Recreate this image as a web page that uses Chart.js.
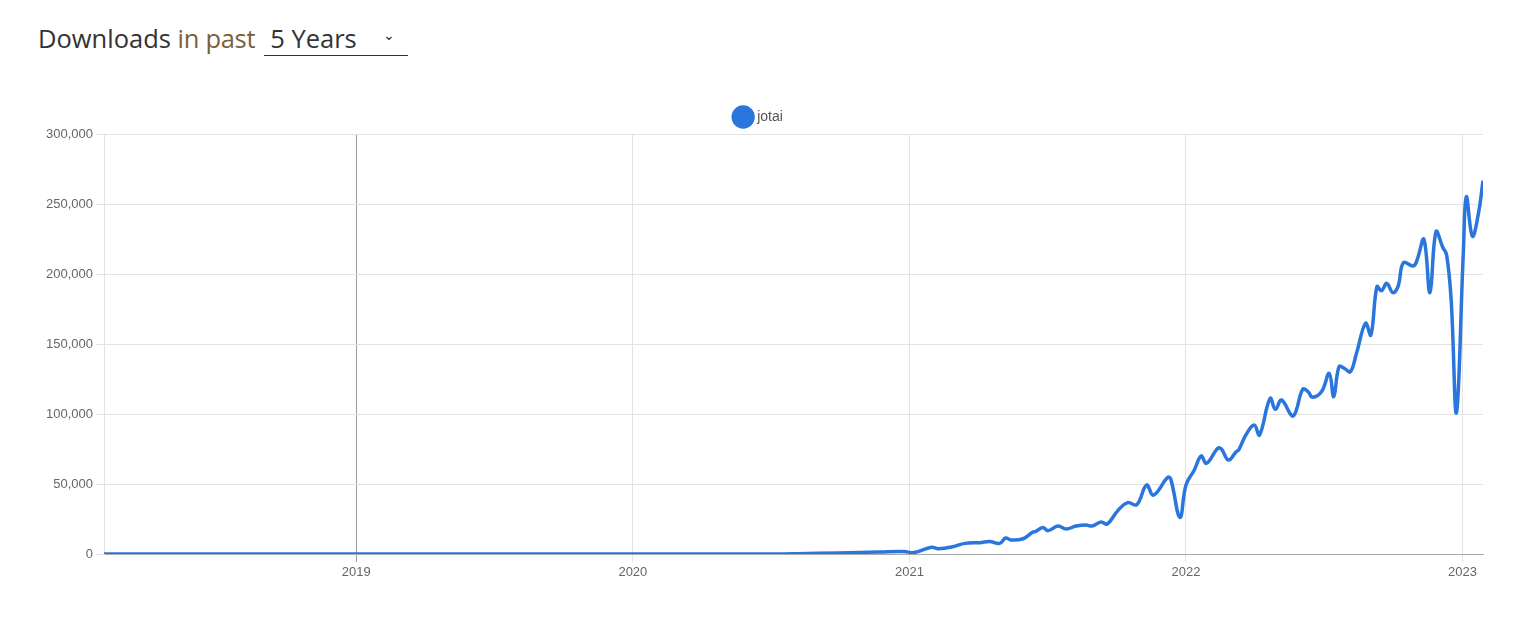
<!DOCTYPE html>
<html>
<head>
<meta charset="utf-8">
<script src="https://cdn.jsdelivr.net/npm/chart.js@4.4.0/dist/chart.umd.min.js"></script>
<style>
    body { margin: 0; background: #fff; overflow: hidden; }
    #head {
        position: absolute; left: 38px; top: 21px;
        font-family: "Open Sans", "Noto Sans", sans-serif; font-size: 25.5px; color: #333;
        white-space: nowrap;
    }
    #head .past { color: #7d5e3c; letter-spacing: -0.3px; }
    #head .sel {
        display: inline-block; position: relative; margin-left: 9px;
        width: 144px; padding-left: 6px; box-sizing: border-box;
        border-bottom: 1px solid #333;
    }
    #head .sel .chev {
        position: absolute; right: 13px; top: 4px; font-size: 14px;
    }
    #wrap { position: absolute; left: 0; top: 0; width: 1536px; height: 619px; }
</style>
</head>
<body>
<div id="head">Downloads <span class="past">in past</span><span class="sel">5 Years<span class="chev">&#8964;</span></span></div>
<div id="wrap"><canvas id="chart-downloads" width="1536" height="619"></canvas></div>
<script>
// semanas (aprox.) e downloads
const weeks = [
    '2018-02-02', '2020-07-20', '2020-08-06', '2020-09-29', '2020-11-23', '2020-12-25',
    '2021-01-07', '2021-01-30', '2021-02-08', '2021-02-27', '2021-03-15', '2021-04-04',
    '2021-04-17', '2021-04-30', '2021-05-08', '2021-05-15', '2021-05-31', '2021-06-13',
    '2021-06-17', '2021-06-26', '2021-07-03', '2021-07-16', '2021-07-27', '2021-08-09',
    '2021-08-22', '2021-08-30', '2021-09-11', '2021-09-19', '2021-10-03', '2021-10-16',
    '2021-10-28', '2021-11-10', '2021-11-19', '2021-12-08', '2021-12-12', '2021-12-24',
    '2022-01-01', '2022-01-12', '2022-01-21', '2022-01-28', '2022-02-12', '2022-02-17',
    '2022-02-26', '2022-03-08', '2022-03-12', '2022-03-21', '2022-04-01', '2022-04-08',
    '2022-04-22', '2022-04-29', '2022-05-07', '2022-05-21', '2022-05-26', '2022-06-04',
    '2022-06-11', '2022-06-17', '2022-06-29', '2022-07-09', '2022-07-15', '2022-07-22',
    '2022-07-29', '2022-08-06', '2022-08-14', '2022-08-26', '2022-09-02', '2022-09-10',
    '2022-09-16', '2022-09-23', '2022-10-01', '2022-10-08', '2022-10-15', '2022-10-28',
    '2022-11-02', '2022-11-11', '2022-11-19', '2022-11-27', '2022-12-06', '2022-12-11',
    '2022-12-17', '2022-12-24', '2023-01-02', '2023-01-06', '2023-01-14', '2023-01-22',
    '2023-01-28'
];
const downloads = [
    0, 0, 200, 800, 1500, 1800,
    1000, 4800, 3800, 5200, 7600, 8100,
    9000, 7600, 11400, 10000, 10900, 15700,
    16200, 19000, 16700, 20000, 17900, 20000,
    20700, 20000, 22900, 21400, 31000, 36700,
    35200, 49300, 42000, 54800, 53300, 26200,
    49300, 60000, 70000, 64800, 75500, 74800,
    67100, 72900, 74800, 85000, 92100, 85000,
    111200, 103300, 110000, 98600, 101700, 117600,
    116000, 112000, 116000, 129000, 112400, 133800,
    132600, 130200, 143300, 164800, 156400, 191000,
    188000, 193300, 186700, 191400, 208000, 205700,
    210000, 224800, 186700, 230200, 219000, 213600,
    181400, 101000, 214800, 255200, 227000, 243300,
    266600
];
const yearTicks = [2019, 2020, 2021, 2022, 2023];
const yTicks = [0, 50000, 100000, 150000, 200000, 250000, 300000];

function paraAno(s) {
    const d = new Date(s + 'T00:00:00Z');
    const y = d.getUTCFullYear();
    const ini = Date.UTC(y, 0, 1), fim = Date.UTC(y + 1, 0, 1);
    return y + (d.getTime() - ini) / (fim - ini);
}

const pontos = [];
for (let i = 0; i < weeks.length; ++i) {
    pontos.push({x: paraAno(weeks[i]), y: downloads[i]});
}

const fonte = {family: 'Arial, "Liberation Sans", sans-serif', size: 13};

var chartDownloads = new Chart(document.getElementById('chart-downloads').getContext('2d'), {
    type: 'line',
    data: {
        datasets: [{
            label: 'jotai',
            data: pontos,
            borderColor: '#2a76dd',
            backgroundColor: '#2a76dd',
            borderWidth: 3.5,
            pointRadius: 0,
            tension: 0.4,
            fill: false
        }]
    },
    options: {
        responsive: false,
        animation: false,
        layout: {padding: {top: 100, right: 53, left: 36, bottom: 0}},
        scales: {
            x: {
                type: 'linear',
                min: pontos[0].x,
                max: pontos[pontos.length - 1].x,
                afterBuildTicks: function(s) { s.ticks = yearTicks.map(v => ({value: v})); },
                afterFit: function(s) { s.height = 65; },
                ticks: {
                    color: '#666', font: fonte, padding: 3,
                    callback: v => String(v), maxRotation: 0
                },
                grid: {
                    color: c => (c.tick && c.tick.value === 2019) ? '#9a9a9a' : '#e3e3e3',
                    tickLength: 8
                },
                border: {color: '#aaaaaa', width: 1}
            },
            y: {
                min: 0,
                max: 300000,
                afterBuildTicks: function(s) { s.ticks = yTicks.map(v => ({value: v})); },
                afterFit: function(s) { s.width = 68; },
                ticks: {
                    color: '#666', font: fonte, padding: 3,
                    callback: v => v.toLocaleString('en-US')
                },
                grid: {color: '#e3e3e3', tickLength: 8},
                border: {color: '#e3e3e3'}
            }
        },
        plugins: {
            legend: {
                display: true,
                position: 'top',
                labels: {
                    usePointStyle: true,
                    pointStyle: 'circle',
                    color: '#555',
                    font: {family: 'Arial, "Liberation Sans", sans-serif', size: 14}
                }
            },
            tooltip: {enabled: false}
        }
    }
});
</script>
</body>
</html>
